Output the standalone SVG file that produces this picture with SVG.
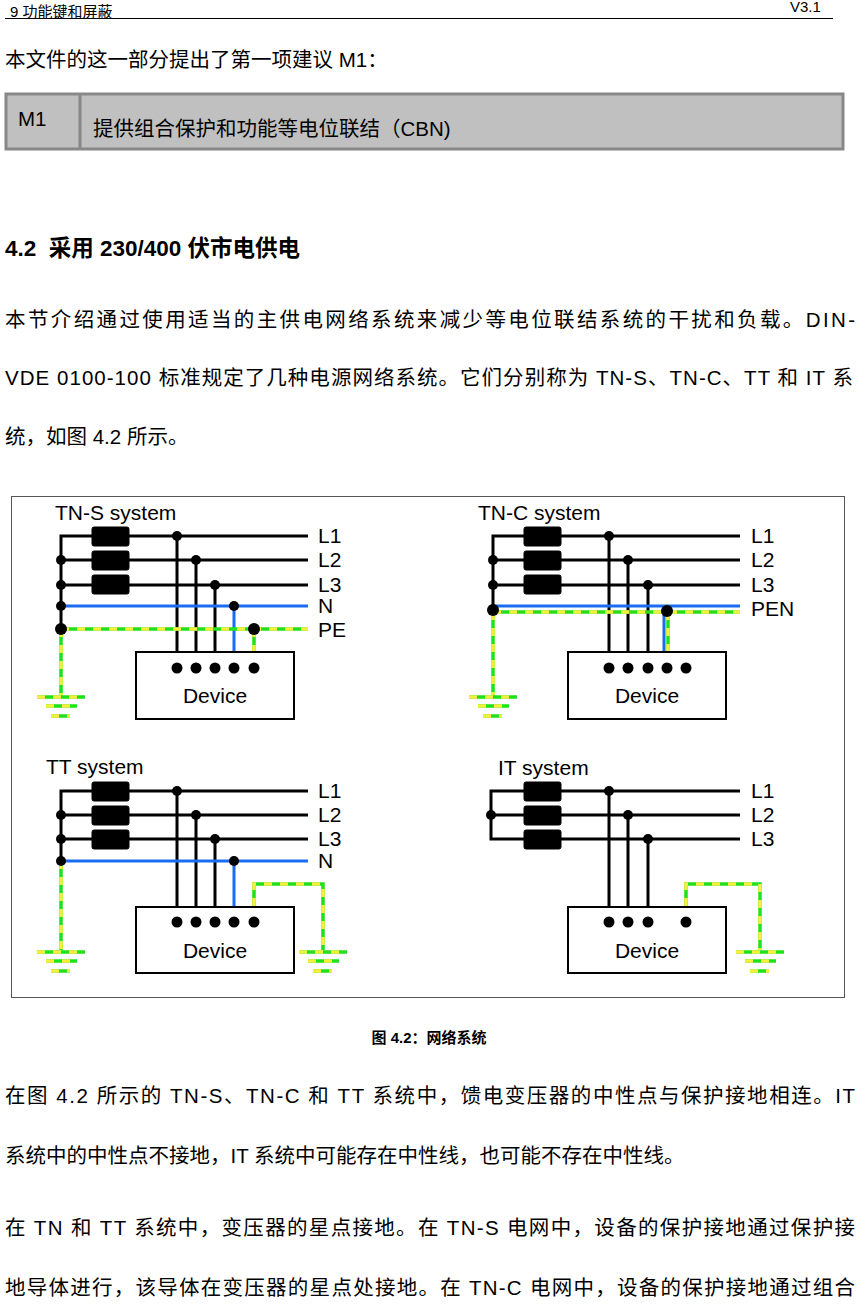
<svg xmlns="http://www.w3.org/2000/svg" width="866" height="1311" viewBox="0 0 866 1311">
<style>
text{font-family:"Liberation Sans","Noto Sans CJK SC",sans-serif;fill:#000}
.b{font-size:20.5px}
.d{font-size:21px}
.w{stroke:#000;stroke-width:3;fill:none}
.n{stroke:#1a6cf0;stroke-width:3;fill:none}
.g{stroke:#22e01a;stroke-width:3.5;fill:none}
.y{stroke:#f5f040;stroke-width:3.5;fill:none;stroke-dasharray:8 8}
.t{fill:#000;stroke:#000;stroke-width:1}
.box{fill:#fff;stroke:#000;stroke-width:2}
</style>
<defs>
<g id="gnd">
<path class="g" d="M-24,0H24M-15,9H16M-10,19H9"/>
<path class="y" d="M-24,0H24M-15,9H16M-10,19H9"/>
</g>
<g id="xf">
<rect x="0" y="0" width="37" height="19" rx="2" class="t"/>
<rect x="0" y="24" width="37" height="19" rx="2" class="t"/>
<rect x="0" y="48" width="37" height="19" rx="2" class="t"/>
</g>
</defs>
<rect width="866" height="1311" fill="#fff"/>
<text x="10" y="17" font-size="15">9 功能键和屏蔽</text>
<text x="790" y="12" font-size="15">V3.1</text>
<line x1="5" y1="18.5" x2="833" y2="18.5" stroke="#000" stroke-width="1"/>
<text x="5" y="67" class="b">本文件的这一部分提出了第一项建议 M1：</text>
<rect x="6" y="94" width="837" height="55" fill="#c0c0c0" stroke="#888" stroke-width="3"/>
<line x1="80" y1="94" x2="80" y2="149" stroke="#888" stroke-width="3"/>
<text x="18" y="126" class="b">M1</text>
<text x="93" y="136" class="b">提供组合保护和功能等电位联结（CBN)</text>
<text x="5" y="256" font-size="22.5" font-weight="bold" xml:space="preserve">4.2  采用 230/400 伏市电供电</text>
<text x="5" y="327" class="b" textLength="850" lengthAdjust="spacing">本节介绍通过使用适当的主供电网络系统来减少等电位联结系统的干扰和负载。DIN-</text>
<text x="5" y="385" class="b" textLength="848" lengthAdjust="spacing">VDE 0100-100 标准规定了几种电源网络系统。它们分别称为 TN-S、TN-C、TT 和 IT 系</text>
<text x="5" y="444" class="b">统，如图 4.2 所示。</text>

<rect x="11.5" y="496.5" width="833" height="501" fill="#fff" stroke="#555" stroke-width="1"/>

<g id="tns">
<text x="55" y="520" class="d">TN-S system</text>
<use href="#xf" x="92" y="527"/>
<path class="w" d="M308,536H61V629M61,560H308M61,585H308M177,536V668M196,560V668M215,585V668"/>
<path class="n" d="M61,606H308M234,606V668"/>
<path class="g" d="M61,629H308M254,629V668M61,629V697"/>
<path class="y" d="M61,629H308M254,629V668M61,629V697"/>
<use href="#gnd" x="61" y="697"/>
<g fill="#000"><circle cx="61" cy="560" r="5"/><circle cx="61" cy="585" r="5"/><circle cx="61" cy="606" r="5"/><circle cx="61" cy="629" r="6"/><circle cx="177" cy="536" r="5"/><circle cx="196" cy="560" r="5"/><circle cx="215" cy="585" r="5"/><circle cx="234" cy="606" r="5"/><circle cx="254" cy="629" r="6"/></g>
<rect x="136" y="652" width="158" height="67" class="box"/>
<g fill="#000"><circle cx="177" cy="668" r="5.5"/><circle cx="196" cy="668" r="5.5"/><circle cx="215" cy="668" r="5.5"/><circle cx="234" cy="668" r="5.5"/><circle cx="254" cy="668" r="5.5"/></g>
<text x="215" y="703" class="d" text-anchor="middle">Device</text>
<text x="318" y="543" class="d">L1</text><text x="318" y="567" class="d">L2</text><text x="318" y="592" class="d">L3</text><text x="318" y="613" class="d">N</text><text x="318" y="637" class="d">PE</text>
</g>

<g id="tnc">
<text x="478" y="520" class="d">TN-C system</text>
<use href="#xf" x="524" y="527"/>
<path class="w" d="M740,536H493V612M493,560H740M493,585H740M609,536V668M628,560V668M648,585V668"/>
<path class="n" d="M493,606H740M664,606V668"/>
<path class="g" d="M493,612H740M668,612V668H686M493,612V697"/>
<path class="y" d="M493,612H740M668,612V668M493,612V697"/>
<use href="#gnd" x="493" y="697"/>
<g fill="#000"><circle cx="493" cy="560" r="5"/><circle cx="493" cy="585" r="5"/><circle cx="493" cy="610" r="6"/><circle cx="609" cy="536" r="5"/><circle cx="628" cy="560" r="5"/><circle cx="648" cy="585" r="5"/><circle cx="667" cy="611" r="6"/></g>
<rect x="568" y="652" width="158" height="67" class="box"/>
<g fill="#000"><circle cx="609" cy="668" r="5.5"/><circle cx="628" cy="668" r="5.5"/><circle cx="648" cy="668" r="5.5"/><circle cx="667" cy="668" r="5.5"/><circle cx="686" cy="668" r="5.5"/></g>
<text x="647" y="703" class="d" text-anchor="middle">Device</text>
<text x="751" y="543" class="d">L1</text><text x="751" y="567" class="d">L2</text><text x="751" y="592" class="d">L3</text><text x="751" y="616" class="d">PEN</text>
</g>

<g id="tt">
<text x="46" y="774" class="d">TT system</text>
<use href="#xf" x="92" y="782"/>
<path class="w" d="M308,791H61V861M61,815H308M61,839H308M177,791V922M196,815V922M215,839V922"/>
<path class="n" d="M61,861H308M234,861V922"/>
<path class="g" d="M61,861V950M254,922V884H323V950"/>
<path class="y" d="M61,861V950M254,922V884H323V950"/>
<use href="#gnd" x="61" y="952"/>
<use href="#gnd" x="323" y="952"/>
<g fill="#000"><circle cx="61" cy="815" r="5"/><circle cx="61" cy="839" r="5"/><circle cx="61" cy="861" r="5"/><circle cx="177" cy="791" r="5"/><circle cx="196" cy="815" r="5"/><circle cx="215" cy="839" r="5"/><circle cx="234" cy="861" r="5"/></g>
<rect x="136" y="907" width="158" height="66" class="box"/>
<g fill="#000"><circle cx="177" cy="922" r="5.5"/><circle cx="196" cy="922" r="5.5"/><circle cx="215" cy="922" r="5.5"/><circle cx="234" cy="922" r="5.5"/><circle cx="254" cy="922" r="5.5"/></g>
<text x="215" y="958" class="d" text-anchor="middle">Device</text>
<text x="318" y="798" class="d">L1</text><text x="318" y="822" class="d">L2</text><text x="318" y="846" class="d">L3</text><text x="318" y="868" class="d">N</text>
</g>

<g id="it">
<text x="498" y="775" class="d">IT system</text>
<use href="#xf" x="524" y="782"/>
<path class="w" d="M740,791H491V839H740M491,815H740M609,791V922M628,815V922M648,839V922"/>
<path class="g" d="M686,922V884H760V950"/>
<path class="y" d="M686,922V884H760V950"/>
<use href="#gnd" x="760" y="952"/>
<g fill="#000"><circle cx="491" cy="815" r="5"/><circle cx="609" cy="791" r="5"/><circle cx="628" cy="815" r="5"/><circle cx="648" cy="839" r="5"/></g>
<rect x="568" y="907" width="158" height="66" class="box"/>
<g fill="#000"><circle cx="609" cy="922" r="5.5"/><circle cx="628" cy="922" r="5.5"/><circle cx="648" cy="922" r="5.5"/><circle cx="686" cy="922" r="5.5"/></g>
<text x="647" y="958" class="d" text-anchor="middle">Device</text>
<text x="751" y="798" class="d">L1</text><text x="751" y="822" class="d">L2</text><text x="751" y="846" class="d">L3</text>
</g>

<text x="429" y="1043" font-size="15" font-weight="bold" text-anchor="middle">图 4.2：网络系统</text>
<text x="5" y="1103" class="b" textLength="850" lengthAdjust="spacing">在图 4.2 所示的 TN-S、TN-C 和 TT 系统中，馈电变压器的中性点与保护接地相连。IT</text>
<text x="5" y="1163" class="b">系统中的中性点不接地，IT 系统中可能存在中性线，也可能不存在中性线。</text>
<text x="5" y="1235" class="b" textLength="850" lengthAdjust="spacing">在 TN 和 TT 系统中，变压器的星点接地。在 TN-S 电网中，设备的保护接地通过保护接</text>
<text x="5" y="1295" class="b" textLength="850" lengthAdjust="spacing">地导体进行，该导体在变压器的星点处接地。在 TN-C 电网中，设备的保护接地通过组合</text>
</svg>
